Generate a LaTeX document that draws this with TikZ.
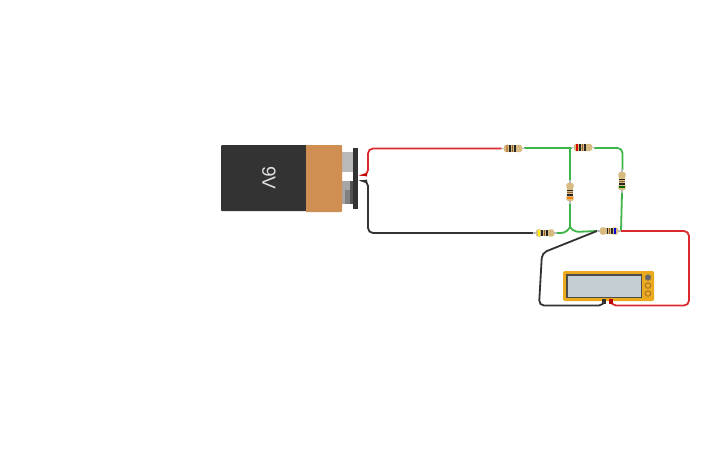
\documentclass[tikz,border=0pt]{standalone}
\usepackage{fontspec}
\setmainfont{Liberation Sans}
\definecolor{wirered}{HTML}{DB2A2E}
\definecolor{wiregreen}{HTML}{3DB54A}
\definecolor{wireblack}{HTML}{333333}
\definecolor{restan}{HTML}{D8BB80}
\definecolor{copper}{HTML}{D08F52}
\definecolor{meteryellow}{HTML}{EBA91E}
\definecolor{screen}{HTML}{C3CFD2}
\tikzset{
  wire/.style={line width=1.8pt,rounded corners=5pt},
  % resistor: body with four bands, #1 is the first band colour
  resistor/.pic={
    \draw[line width=1.2pt,gray!55] (-12,0) -- (12,0);
    \fill[restan,rounded corners=1.5pt] (-9,-3.6) rectangle (-3,3.6);
    \fill[restan,rounded corners=1.5pt] (3,-3.6) rectangle (9,3.6);
    \fill[restan] (-4,-3.1) rectangle (4,3.1);
    \fill[#1] (-7,-3.4) rectangle (-5.2,3.4);
    \fill[black!85] (-3.8,-3.1) rectangle (-2.3,3.1);
    \fill[brown!75!black] (-1.4,-3.1) rectangle (0,3.1);
    \fill[black!85] (1,-3.1) rectangle (2.5,3.1);
  },
  knob/.style={circle,draw=#1,line width=.7pt,minimum size=5.5pt,inner sep=0pt},
  probe/.style={minimum width=3.5pt,minimum height=5pt,inner sep=0pt,fill=#1}
}
\begin{document}
\begin{tikzpicture}[x=1pt,y=-1pt]
  \useasboundingbox (0,0) rectangle (725,453);

  % battery
  \fill[gray!55] (342,152) rectangle (353,172);
  \fill[gray!70] (342,181) rectangle (353,204);
  \fill[gray] (345,190) rectangle (353,204);
  \fill[wireblack!85] (350,181) rectangle (353,204);
  \fill[wireblack,rounded corners=1pt] (221,145) rectangle (310,211);
  \fill[copper,rounded corners=1pt] (306,145) rectangle (342,212);
  \fill[copper] (306,145) rectangle (312,212);
  \node (nine) [rotate=-90,text=white!88!black,font=\fontsize{19}{19}\selectfont] at (269,178) {9V};
  \fill[wireblack] (353,148) rectangle (358,209);

  % named points of the circuit
  \coordinate (batp)  at (364,175);
  \coordinate (batn)  at (364,181);
  \coordinate (r1l)   at (502,148.5);
  \coordinate (r1r)   at (524,148);
  \coordinate (r2l)   at (572,148);
  \coordinate (r2r)   at (594,148);
  \coordinate (r3t)   at (570,180);
  \coordinate (r3b)   at (570,204);
  \coordinate (r4t)   at (622.5,170);
  \coordinate (r4b)   at (622,193);
  \coordinate (r5l)   at (533,233);
  \coordinate (r5r)   at (556,233);
  \coordinate (r6l)   at (597,231);
  \coordinate (r6r)   at (621,231);
  \coordinate (junc1) at (570,148);
  \coordinate (junc2) at (570,227);
  \coordinate (mblk)  at (604,302);
  \coordinate (mred)  at (611,302);

  % wires
  \draw[wire,wirered] (batp) -- (368,175) -- (368,148.5) -- (r1l);
  \draw[wire,wireblack] (batn) -- (368,181) -- (368,233) -- (r5l);
  \draw[line width=1.8pt,wiregreen] (r1r) -- (r2l);
  \draw[wire,wiregreen] (r2r) -- (622.5,148) -- (r4t);
  \draw[wire,wiregreen] (junc1) -- (r3t);
  \draw[wire,wiregreen] (r3b) -- (junc2);
  \draw[wire,wiregreen] (r5r) -- (566,233) -- (junc2);
  \draw[wire,wiregreen] (junc2) -- (574,232) -- (r6l);
  \draw[wire,wiregreen] (r4b) -- (621,231);
  \draw[wire,wirered] (r6r) -- (689,231) -- (689,305.5) -- (611,305.5) -- (mred);
  \draw[wire,wireblack] (r6l) -- (542,253) -- (539,305.5) -- (604,305.5) -- (mblk);
  \fill[red!75!black] (360,175) -- (367,173.5) -- (367,176.5) -- cycle;
  \fill[wireblack] (360,181) -- (367,179.5) -- (367,182.5) -- cycle;

  % resistors
  \pic at (513,148.5) {resistor=brown!85!restan};
  \pic at (583,147.5) {resistor=red!85!black};
  \pic[rotate=90] at (570,192) {resistor=orange};
  \pic[rotate=90] at (622,181) {resistor=green!40!black};
  \pic at (545,233) {resistor=yellow};
  \pic[xscale=-1] at (609,231) {resistor=blue!85!black};

  % multimeter
  \fill[meteryellow,rounded corners=1.5pt] (563,271) rectangle (654,301);
  \fill[gray!60!black] (566,274) rectangle (642,298);
  \fill[screen] (567.5,275.5) rectangle (640.5,296.5);
  \node (knoba) [knob=wireblack!70,fill=gray!80!black] at (648,277.5) {};
  \node (knobb) [knob=brown!80!black] at (648,285.5) {};
  \node (knobc) [knob=brown!80!black] at (648,293.5) {};
  \node (pblk) [probe=wireblack] at (604,301.5) {};
  \node (pred) [probe=red!75!black] at (611,301.5) {};
\end{tikzpicture}
\end{document}
